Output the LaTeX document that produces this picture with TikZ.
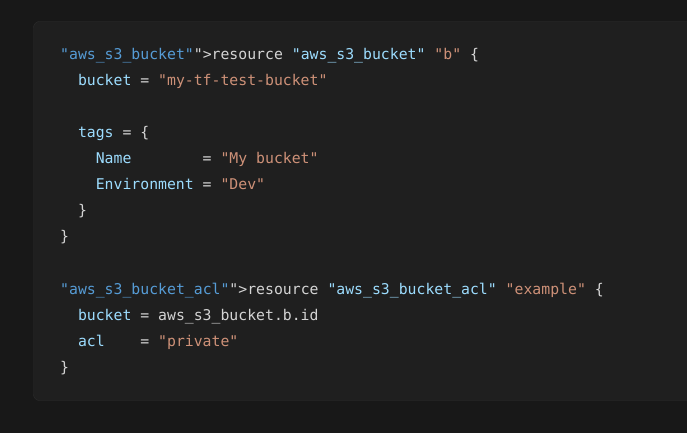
\documentclass[tikz,border=0pt]{standalone}
\usepackage{fontspec}
\setmonofont{DejaVu Sans Mono}
\definecolor{bgout}{HTML}{181818}
\definecolor{bgbox}{HTML}{1F1F1F}
\definecolor{bord}{HTML}{2D2D2D}
\definecolor{tw}{HTML}{D4D4D4}
\definecolor{tb}{HTML}{569CD6}
\definecolor{tl}{HTML}{9CDCFE}
\definecolor{to}{HTML}{CE9178}
\newcommand{\W}[1]{\textcolor{tw}{#1}}
\newcommand{\B}[1]{\textcolor{tb}{#1}}
\newcommand{\Lb}[1]{\textcolor{tl}{#1}}
\newcommand{\Or}[1]{\textcolor{to}{#1}}
\begin{document}
\begin{tikzpicture}[x=1bp,y=-1bp,
  code/.style={anchor=base west,inner sep=0pt,font=\ttfamily\fontsize{14.8bp}{16bp}\selectfont,text=tw}]
\useasboundingbox (0,0) rectangle (687,433);
\fill[bgout] (0,0) rectangle (687,433);
\draw[bord,fill=bgbox,rounded corners=6bp] (33.5,21.5) rectangle (700,400.5);
\node[code] (l1) at (60,60) {\B{"aws\_s3\_bucket"}\W{">resource} \Lb{"aws\_s3\_bucket"} \Or{"b"} \W{\{}};
\node[code] (l2) at (77.8,86) {\Lb{bucket} = \Or{"my-tf-test-bucket"}};
\node[code] (l3) at (77.8,138) {\Lb{tags} = \{};
\node[code] (l4) at (95.6,164) {\Lb{Name}~~~~~~~~= \Or{"My bucket"}};
\node[code] (l5) at (95.6,190) {\Lb{Environment} = \Or{"Dev"}};
\node[code] (l6) at (77.8,216) {\}};
\node[code] (l7) at (60,242) {\}};
\node[code] (l8) at (60,294.5) {\B{"aws\_s3\_bucket\_acl"}\W{">resource} \Lb{"aws\_s3\_bucket\_acl"} \Or{"example"} \W{\{}};
\node[code] (l9) at (77.8,320.5) {\Lb{bucket} = aws\_s3\_bucket.b.id};
\node[code] (l10) at (77.8,346.5) {\Lb{acl}~~~~= \Or{"private"}};
\node[code] (l11) at (60,372.5) {\}};
\end{tikzpicture}
\end{document}
